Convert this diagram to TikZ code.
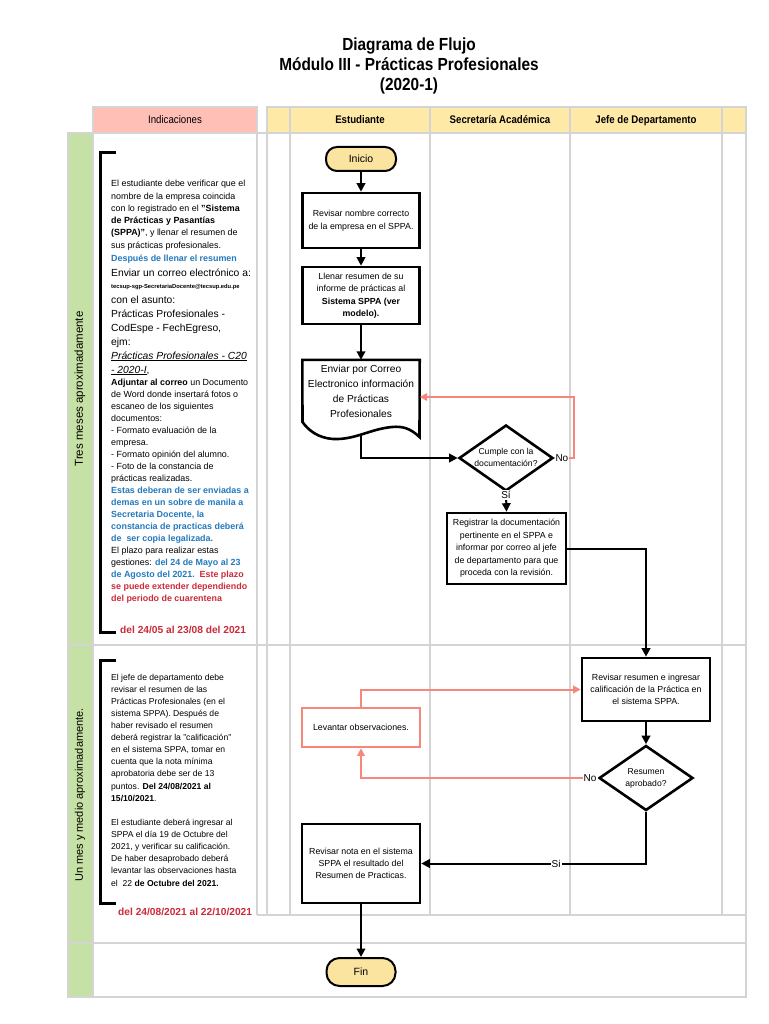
\documentclass[tikz,border=0pt]{standalone}
\usepackage{fontspec}
\setmainfont{Liberation Sans}
\newfontfamily\narrowsf[FakeStretch=0.88]{Liberation Sans}
\usetikzlibrary{arrows.meta,shapes.geometric}
\newcommand\fsz[2]{\fontsize{#1}{#2}\selectfont}
\definecolor{gridgray}{HTML}{D4D4D4}
\definecolor{pinkc}{HTML}{FFBFB7}
\definecolor{hdryellow}{HTML}{FFE9A6}
\definecolor{termfill}{HTML}{FBE3A0}
\definecolor{greenc}{HTML}{C5E1A5}
\definecolor{salmon}{HTML}{F7877A}
\definecolor{bluet}{HTML}{2379BE}
\definecolor{redt}{HTML}{CC2A3A}
\newcommand\blu[1]{{\bfseries\color{bluet}#1}}
\newcommand\rdt[1]{{\bfseries\color{redt}#1}}
\begin{document}
\begin{tikzpicture}[x=1pt,y=-1pt,
  grid/.style={draw=gridgray,line width=1.6pt},
  ltext/.style={anchor=base west,inner sep=0pt,font=\fsz{8.9}{10}},
  mtext/.style={anchor=base west,inner sep=0pt,font=\fsz{8.6}{10}},
  btext/.style={anchor=base west,inner sep=0pt,font=\fsz{10.3}{12}},
  procbox/.style={draw=black,line width=2.6pt,fill=white,align=center,inner sep=0pt,font=\fsz{8.8}{12.5}},
  termnode/.style={draw=black,line width=2pt,rounded corners=11pt,fill=termfill,inner sep=0pt,font=\fsz{10.5}{12}},
  decnode/.style={diamond,draw=black,line width=2.6pt,fill=white,inner sep=0pt},
  dectext/.style={align=center,inner sep=0pt,font=\fsz{8.6}{12}},
  flow/.style={draw=black,line width=2pt,-{Triangle[length=8.5pt,width=8.5pt]}},
  backflow/.style={draw=salmon,line width=2pt,-{Triangle[length=7.5pt,width=7.5pt]}},
  lbl/.style={inner sep=1pt,font=\fsz{10}{12}},
  bracket/.style={draw=black,line width=3pt},
  hdr/.style={anchor=base,inner sep=0pt,font=\narrowsf\fsz{11}{13}},
  hdrb/.style={anchor=base,inner sep=0pt,font=\narrowsf\bfseries\fsz{11}{13}},
  ttl/.style={anchor=base,inner sep=0pt,font=\narrowsf\bfseries\fsz{17.5}{20}},
]
\useasboundingbox (0,0) rectangle (768,1024);
\fill[white] (0,0) rectangle (768,1024);

% title
\node[ttl] (t1) at (409,50.5) {Diagrama de Flujo};
\node[ttl] (t2) at (409,70.5) {Módulo III - Prácticas Profesionales};
\node[ttl] (t3) at (409,91) {(2020-1)};

% fills
\fill[pinkc] (93,107) rectangle (257,133);
\fill[hdryellow] (267,107) rectangle (746,133);
\fill[greenc] (68,133) rectangle (93,997);

% grid
\draw[grid] (93,107) rectangle (257,133);
\draw[grid] (267,107) rectangle (746,133);
\foreach \xx in {290,430,570,722} {\draw[grid] (\xx,107) -- (\xx,133);}
\draw[grid] (68,133) rectangle (746,997);
\draw[grid] (93,133) -- (93,997);
\draw[grid] (68,645) -- (746,645);
\draw[grid] (68,943) -- (746,943);
\foreach \xx in {257,267,290,430,570,722} {\draw[grid] (\xx,133) -- (\xx,915);}
\draw[grid] (257,915) -- (746,915);

% header labels
\node[hdr] (h1) at (175,124) {Indicaciones};
\node[hdrb] (h2) at (360,124) {Estudiante};
\node[hdrb] (h3) at (500,124) {Secretaría Académica};
\node[hdrb] (h4) at (646,124) {Jefe de Departamento};

% row labels
\node[rotate=90,font=\fsz{11.5}{13}] (r1) at (80,389) {Tres meses aproximadamente};
\node[rotate=90,font=\fsz{11}{13}] (r2) at (80,795) {Un mes y medio aproximadamente.};

% brackets
\draw[bracket] (116,153) -- (100,153) -- (100,632) -- (116,632);
\draw[bracket] (116,660) -- (100,660) -- (100,903) -- (116,903);

% block 1 text
\node[ltext] (a1) at (111,187) {El estudiante debe verificar que el};
\node[ltext] (a2) at (111,200) {nombre de la empresa coincida};
\node[ltext] (a3) at (111,212) {con lo registrado en el \textbf{"Sistema}};
\node[ltext] (a4) at (111,224) {\textbf{de Prácticas y Pasantías}};
\node[ltext] (a5) at (111,236) {\textbf{(SPPA)"}, y llenar el resumen de};
\node[ltext] (a6) at (111,248) {sus prácticas profesionales.};
\node[ltext] (a7) at (111,261) {\blu{Después de llenar el resumen}};
\node[btext] (a8) at (111,276) {Enviar un correo electrónico a:};
\node[ltext] (a9) at (111,288) {\fsz{5.8}{7}\bfseries tecsup-sgp-SecretariaDocente@tecsup.edu.pe};
\node[btext] (a10) at (111,303) {con el asunto:};
\node[btext] (a11) at (111,317) {Prácticas Profesionales -};
\node[btext] (a12) at (111,331) {CodEspe - FechEgreso,};
\node[btext] (a13) at (111,345) {ejm:};
\node[btext] (a14) at (111,359) {\underline{\textit{Prácticas Profesionales - C20}}};
\node[btext] (a15) at (111,373) {\underline{\textit{- 2020-I}},};
\node[ltext] (a16) at (111,385) {\textbf{Adjuntar al correo} un Documento};
\node[ltext] (a17) at (111,397) {de Word donde insertará fotos o};
\node[ltext] (a18) at (111,409) {escaneo de los siguientes};
\node[ltext] (a19) at (111,421) {documentos:};
\node[ltext] (a20) at (111,433) {- Formato evaluación de la};
\node[ltext] (a21) at (111,445) {empresa.};
\node[ltext] (a22) at (111,457) {- Formato opinión del alumno.};
\node[ltext] (a23) at (111,469) {- Foto de la constancia de};
\node[ltext] (a24) at (111,481) {prácticas realizadas.};
\node[ltext] (a25) at (111,493) {\blu{Estas deberan de ser enviadas a}};
\node[ltext] (a26) at (111,505) {\blu{demas en un sobre de manila a}};
\node[ltext] (a27) at (111,517) {\blu{Secretaria Docente, la}};
\node[ltext] (a28) at (111,529) {\blu{constancia de practicas deberá}};
\node[ltext] (a29) at (111,541) {\blu{de\ \ ser copia legalizada.}};
\node[ltext] (a30) at (111,553) {El plazo para realizar estas};
\node[ltext] (a31) at (111,565) {gestiones: \blu{del 24 de Mayo al 23}};
\node[ltext] (a32) at (111,577) {\blu{de Agosto del 2021.}\ \ \rdt{Este plazo}};
\node[ltext] (a33) at (111,589) {\rdt{se puede extender dependiendo}};
\node[ltext] (a34) at (111,601) {\rdt{del periodo de cuarentena}};
\node[anchor=base west,inner sep=0pt,font=\fsz{10.2}{12}] (a35) at (120,633) {\rdt{del 24/05 al 23/08 del 2021}};

% block 2 text
\node[mtext] (c1) at (111,680) {El jefe de departamento debe};
\node[mtext] (c2) at (111,692) {revisar el resumen de las};
\node[mtext] (c3) at (111,704) {Prácticas Profesionales (en el};
\node[mtext] (c4) at (111,716) {sistema SPPA). Después de};
\node[mtext] (c5) at (111,728) {haber revisado el resumen};
\node[mtext] (c6) at (111,740) {deberá registrar la "calificación"};
\node[mtext] (c7) at (111,752) {en el sistema SPPA, tomar en};
\node[mtext] (c8) at (111,764) {cuenta que la nota mínima};
\node[mtext] (c9) at (111,776) {aprobatoria debe ser de 13};
\node[mtext] (c10) at (111,789) {puntos. \textbf{Del 24/08/2021 al}};
\node[mtext] (c11) at (111,801) {\textbf{15/10/2021}.};
\node[mtext] (c12) at (111,825) {El estudiante deberá ingresar al};
\node[mtext] (c13) at (111,837) {SPPA el día 19 de Octubre del};
\node[mtext] (c14) at (111,849) {2021, y verificar su calificación.};
\node[mtext] (c15) at (111,861) {De haber desaprobado deberá};
\node[mtext] (c16) at (111,873) {levantar las observaciones hasta};
\node[mtext] (c17) at (111,886) {el\ \ 22 \textbf{de Octubre del 2021.}};
\node[anchor=base west,inner sep=0pt,font=\fsz{10.2}{12}] (c18) at (118,915) {\rdt{del 24/08/2021 al 22/10/2021}};

% flowchart nodes
\node[termnode,minimum width=70pt,minimum height=24pt] (start) at (361,159) {Inicio};
\node[procbox,minimum width=117pt,minimum height=55pt] (b1) at (361,220.5) {Revisar nombre correcto\\de la empresa en el SPPA.};
\node[procbox,minimum width=117pt,minimum height=57pt] (b2) at (361,295.5) {Llenar resumen de su\\informe de prácticas al\\\textbf{Sistema SPPA (ver}\\\textbf{modelo).}};
\node[minimum width=117pt,minimum height=74pt,inner sep=0pt] (b3) at (361,397) {};
\draw[line width=2.6pt,fill=white] (b3.north west) -- (b3.north east) -- (419.5,437)
  .. controls (410,428) and (402,426) .. (392,427)
  .. controls (370,429) and (355,440) .. (333,439)
  .. controls (318,438) and (308,430) .. (302.5,422) -- cycle;
\node[align=center,inner sep=0pt,font=\fsz{10.2}{15}] (b3t) at (361,391) {Enviar por Correo\\Electronico información\\de Prácticas\\Profesionales};
\node[decnode,minimum width=94pt,minimum height=66pt] (d1) at (506,458) {};
\node[dectext] (d1t) at (506,457) {Cumple con la\\documentación?};
\node[procbox,minimum width=119pt,minimum height=71pt] (b4) at (506.5,548.5) {Registrar la documentación\\pertinente en el SPPA e\\informar por correo al jefe\\de departamento para que\\proceda con la revisión.};
\node[procbox,minimum width=128pt,minimum height=63pt,font=\fsz{8.8}{12}] (b5) at (646,689.5) {Revisar resumen e ingresar\\calificación de la Práctica en\\el sistema SPPA.};
\node[decnode,minimum width=94pt,minimum height=65pt] (d2) at (646,778) {};
\node[dectext] (d2t) at (646,778) {Resumen\\aprobado?};
\node[procbox,draw=salmon,minimum width=118pt,minimum height=39pt] (lev) at (361,727.5) {Levantar observaciones.};
\node[procbox,minimum width=118pt,minimum height=79pt,font=\fsz{8.8}{12}] (b6) at (361,863.5) {Revisar nota en el sistema\\SPPA el resultado del\\Resumen de Practicas.};
\node[termnode,minimum width=69pt,minimum height=28pt,rounded corners=13pt] (fin) at (361,972) {Fin};

% connectors
\draw[flow] (start) -- (b1);
\draw[flow] (b1) -- (b2);
\draw[flow] (b2) -- (b3.north);
\draw[flow] (b3.south) |- (d1.west);
\draw[backflow] (d1.east) -- ++(20,0) |- (b3.east);
\node[lbl,fill=white,anchor=west] (no1) at (d1.east) {No};
\draw[flow] (d1.south) -- (b4.north);
\node[lbl,fill=white] (si1) at (506,495) {Sí};
\draw[flow] (b4.east) -| (b5.north);
\draw[flow] (b5) -- (d2);
\draw[backflow] (d2.west) -| (lev.south);
\node[lbl,fill=white,anchor=east] (no2) at (d2.west) {No};
\draw[backflow] (lev.north) |- (b5.west);
\draw[flow] (d2.south) |- node[pos=0.7,lbl,fill=white] (si2) {Si} (b6.east);
\draw[flow] (b6) -- (fin);
\end{tikzpicture}
\end{document}
